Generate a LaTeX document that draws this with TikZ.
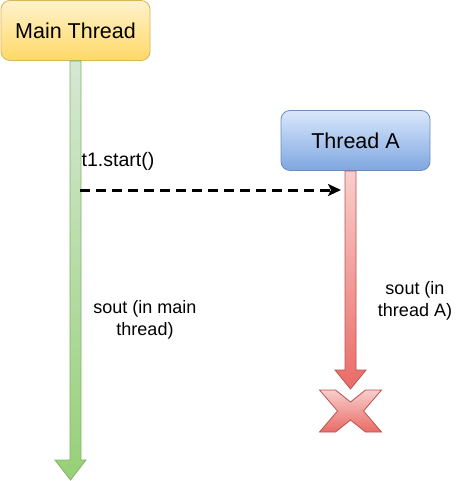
\documentclass[tikz,border=0pt]{standalone}
\usepackage{fontspec}
\setmainfont{Liberation Sans}
\usetikzlibrary{arrows.meta}
\definecolor{ylTop}{HTML}{FFF2CC}
\definecolor{ylBot}{HTML}{FFD966}
\definecolor{ylLine}{HTML}{D6B656}
\definecolor{blTop}{HTML}{DAE8FC}
\definecolor{blBot}{HTML}{7EA6E0}
\definecolor{blLine}{HTML}{6C8EBF}
\definecolor{grTop}{HTML}{D5E8D4}
\definecolor{grBot}{HTML}{97D077}
\definecolor{grLine}{HTML}{82B366}
\definecolor{rdTop}{HTML}{F8CECC}
\definecolor{rdBot}{HTML}{EA6B66}
\definecolor{rdLine}{HTML}{B85450}
\tikzset{
  threadbox/.style={rounded corners=9pt, minimum width=149pt, minimum height=60pt,
    inner sep=0pt, font=\fontsize{21.5}{25}\selectfont, line width=0.8pt},
  yellowbox/.style={threadbox, draw=ylLine, top color=ylTop, bottom color=ylBot},
  bluebox/.style={threadbox, draw=blLine, top color=blTop, bottom color=blBot},
  greenarrow/.style={draw=grLine, top color=grTop, bottom color=grBot, line width=0.8pt},
  redarrow/.style={draw=rdLine, top color=rdTop, bottom color=rdBot, line width=0.8pt},
  label/.style={font=\fontsize{18}{21.5}\selectfont, align=center, inner sep=0pt},
  callarrow/.style={line width=3pt, dash pattern=on 10pt off 6pt,
    -{Stealth[length=13pt,width=12pt,inset=3pt]}, shorten >=0pt}
}
\begin{document}
\begin{tikzpicture}[x=1pt,y=-1pt]
\useasboundingbox (0,0) rectangle (471,481);
% boxes
\node[yellowbox] (main) at (75.5,30.5) {Main Thread};
\node[bluebox] (ta) at (355.5,140.5) {Thread A};
% main thread lifeline
\coordinate (mtop) at (main.south);
\coordinate (mend) at (70.5,480);
\path[greenarrow] ([xshift=-5.5pt]mtop) -- ([xshift=-5.5pt]mtop |- 0,460) -- (55,460)
  -- (mend) -- (86,460) -- ([xshift=5.5pt]mtop |- 0,460) -- ([xshift=5.5pt]mtop) -- cycle;
% thread A lifeline
\coordinate (atop) at (ta.south);
\coordinate (aend) at (350.5,389);
\path[redarrow] (345,171) -- (345,370) -- (335,370) -- (aend) -- (366,370) -- (356,370) -- (356,171) -- cycle;
% end cross
\node[inner sep=0pt, minimum size=0pt] (xend) at (350.5,411) {};
\path[redarrow] ([shift={(-31,-21)}]xend.center) -- ++(16,0) -- ([shift={(0,-9)}]xend.center)
  -- ([shift={(15,-21)}]xend.center) -- ++(16,0) -- ([shift={(13,0)}]xend.center)
  -- ([shift={(31,21)}]xend.center) -- ++(-16,0) -- ([shift={(0,9)}]xend.center)
  -- ([shift={(-15,21)}]xend.center) -- ++(-16,0) -- ([shift={(-13,0)}]xend.center) -- cycle;
% call arrow
\coordinate (cs) at (80,190);
\coordinate (ce) at (341,190);
\draw[callarrow] (cs) -- (ce);
% labels
\node[label, anchor=west, font=\fontsize{19.5}{23}\selectfont] (call) at (81.5,161) {t1.start()};
\node[label] (smain) at (145,320) {sout (in main\\thread)};
\node[label] (sta) at (415,301) {sout (in\\thread A)};
\end{tikzpicture}
\end{document}
